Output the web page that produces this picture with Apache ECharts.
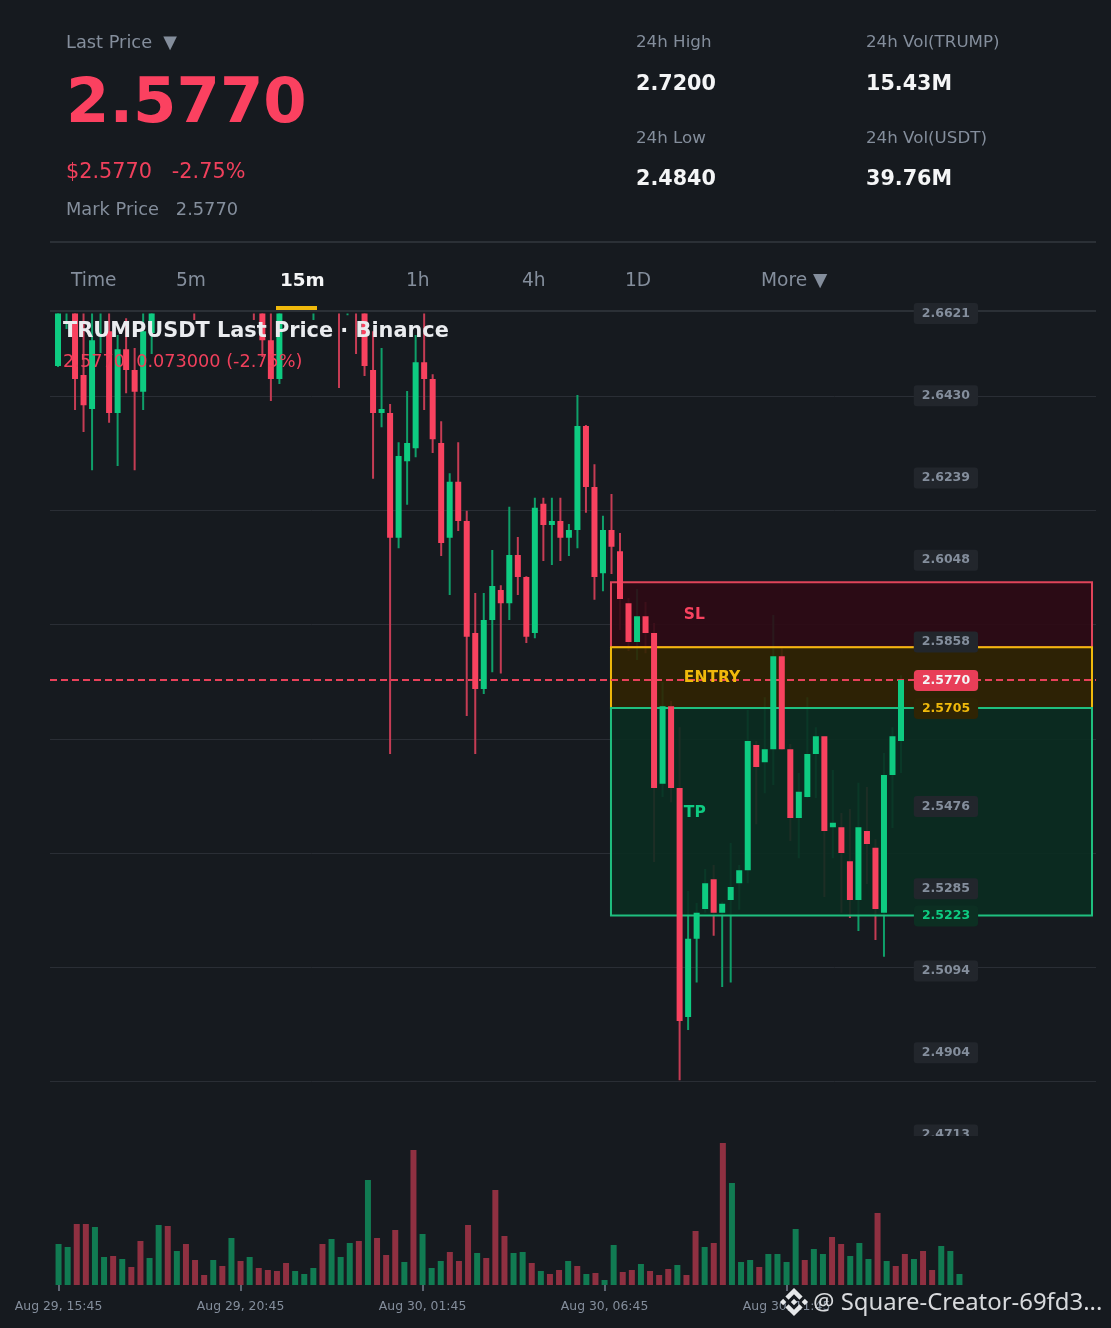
<!DOCTYPE html>
<html><head><meta charset="utf-8">
<style>html,body{margin:0;padding:0;background:#161a1f}#c{width:1111px;height:1328px}</style>
<script src="https://cdn.jsdelivr.net/npm/echarts@6/dist/echarts.min.js"></script>
</head><body><div id="c"></div>
<script>
const opens=[2.6499,2.6650,2.6680,2.6478,2.6399,2.6640,2.6580,2.6390,2.6538,2.6490,2.6439,2.6576,2.6690,2.6670,2.6700,2.6680,2.6665,2.6650,2.6680,2.6660,2.6690,2.6670,2.6705,2.6680,2.6660,2.6559,2.6469,2.6650,2.6670,2.6690,2.6670,2.6690,2.6710,2.6725,2.6690,2.6700,2.6680,2.6490,2.6390,2.6390,2.6100,2.6278,2.6308,2.6508,2.6469,2.6320,2.6100,2.6230,2.6139,2.5879,2.5749,2.5909,2.5979,2.5948,2.6060,2.6009,2.5879,2.6179,2.6130,2.6139,2.6100,2.6118,2.6360,2.6218,2.6018,2.6118,2.6069,2.5948,2.5858,2.5918,2.5879,2.5529,2.5709,2.5519,2.4987,2.5169,2.5238,2.5307,2.5229,2.5259,2.5298,2.5328,2.5619,2.5579,2.5609,2.5825,2.5609,2.5449,2.5498,2.5598,2.5639,2.5428,2.5428,2.5349,2.5259,2.5419,2.5380,2.5229,2.5549,2.5628];
const closes=[2.6700,2.6690,2.6469,2.6408,2.6559,2.6680,2.6390,2.6538,2.6490,2.6439,2.6580,2.6680,2.6670,2.6700,2.6680,2.6665,2.6650,2.6680,2.6660,2.6690,2.6670,2.6705,2.6680,2.6660,2.6559,2.6469,2.6650,2.6670,2.6690,2.6670,2.6690,2.6710,2.6725,2.6690,2.6700,2.6680,2.6499,2.6390,2.6399,2.6100,2.6290,2.6320,2.6508,2.6469,2.6329,2.6088,2.6230,2.6139,2.5870,2.5749,2.5909,2.5988,2.5948,2.6060,2.6009,2.5870,2.6170,2.6130,2.6139,2.6100,2.6118,2.6360,2.6218,2.6009,2.6118,2.6079,2.5958,2.5858,2.5918,2.5879,2.5519,2.5709,2.5519,2.4978,2.5169,2.5229,2.5298,2.5229,2.5250,2.5289,2.5328,2.5628,2.5568,2.5609,2.5825,2.5609,2.5449,2.5510,2.5598,2.5639,2.5419,2.5438,2.5368,2.5259,2.5428,2.5389,2.5238,2.5549,2.5639,2.5770];
const lows=[2.6497,2.6585,2.6397,2.6346,2.6257,2.6529,2.6367,2.6267,2.6436,2.6257,2.6397,2.6527,2.6640,2.6655,2.6660,2.6640,2.6606,2.6635,2.6640,2.6650,2.6655,2.6660,2.6665,2.6606,2.6520,2.6418,2.6457,2.6635,2.6650,2.6650,2.6606,2.6670,2.6690,2.6448,2.6617,2.6527,2.6476,2.6237,2.6357,2.5598,2.6076,2.6177,2.6287,2.6397,2.6297,2.6058,2.5967,2.6116,2.5686,2.5598,2.5737,2.5788,2.5785,2.5909,2.5967,2.5856,2.5867,2.6046,2.6037,2.6046,2.6058,2.6076,2.6158,2.5956,2.5976,2.6016,2.5886,2.5837,2.5816,2.5832,2.5347,2.5498,2.5486,2.4840,2.4957,2.5067,2.5229,2.5176,2.5057,2.5067,2.5236,2.5298,2.5435,2.5507,2.5526,2.5607,2.5396,2.5356,2.5496,2.5496,2.5266,2.5356,2.5229,2.5217,2.5187,2.5296,2.5166,2.5127,2.5426,2.5554];
const highs=[2.6720,2.6700,2.6700,2.6650,2.6640,2.6690,2.6640,2.6571,2.6610,2.6541,2.6640,2.6700,2.6700,2.6720,2.6730,2.6700,2.6680,2.6700,2.6695,2.6710,2.6700,2.6720,2.6715,2.6690,2.6670,2.6640,2.6670,2.6680,2.6700,2.6695,2.6700,2.6720,2.6735,2.6730,2.6710,2.6705,2.6690,2.6580,2.6541,2.6411,2.6322,2.6441,2.6571,2.6640,2.6480,2.6371,2.6250,2.6322,2.6163,2.5972,2.5972,2.6072,2.5990,2.6172,2.6102,2.6011,2.6193,2.6193,2.6193,2.6193,2.6132,2.6432,2.6362,2.6271,2.6151,2.6202,2.6111,2.5960,2.5981,2.5951,2.5902,2.5765,2.5721,2.5660,2.5280,2.5252,2.5331,2.5340,2.5255,2.5391,2.5340,2.5700,2.5628,2.5730,2.5921,2.5849,2.5621,2.5554,2.5730,2.5660,2.5639,2.5561,2.5461,2.5470,2.5531,2.5521,2.5400,2.5600,2.5660,2.5781];
const volumes=[41,38,61,61,58,28,29,26,18,44,27,60,59,34,41,25,10,25,19,47,24,28,17,15,14,22,14,11,17,41,46,28,42,44,105,47,30,55,23,135,51,17,24,33,24,60,32,27,95,49,32,33,22,14,11,15,24,19,11,12,5,40,13,15,21,14,10,16,20,10,54,38,42,142,102,23,25,18,31,31,23,56,25,36,31,48,41,29,42,26,72,24,19,31,26,34,15,39,34,11];
const priceTicks=[2.6621,2.6430,2.6239,2.6048,2.5858,2.5476,2.5285,2.5094,2.4904,2.4713];
const gridValues=[2.6429,2.6165,2.5900,2.5633,2.5368,2.5103,2.4837];
const zoneNames=['SL','ENTRY','TP'];
const zoneTops=[2.5997,2.5846,2.5705];
const zoneBottoms=[2.5846,2.5705,2.5223];
const zoneTextPrices=[2.5920,2.5774,2.5460];
const zoneStart=64.94, zoneEnd=121.43, zoneTextIndex=73.5;
const lastPrice=2.5770;
const markedPrices=[2.5705,2.5223,2.5770];
const startDay=29, startMinutes=15*60+45;

const RED='#f8425f',GREEN='#0ecb81',GRAY='#848e9c',FONT='"DejaVu Sans"';
const zoneStroke=['#e0445a','#f0b90b','#1fbf7f'];
const zoneFill=['rgba(46,10,20,0.9)','rgba(48,36,2,0.9)','rgba(10,44,32,0.9)'];
const zoneTextColor=[RED,'#f0b90b',GREEN];
const markColors=[['#f0b90b','#2f2404'],['#0ecb81','#0c2f22'],['#f4f5f6','#e83e58']];
const LOGO='M38.73 53.2l24.59-24.58 24.6 24.6 14.3-14.31L63.32 0 24.42 38.9zM0 63.31l14.3-14.31 14.31 14.31-14.31 14.3zM38.73 73.41l24.59 24.59 24.6-24.6 14.31 14.29-38.9 38.91-38.91-38.88-.02-.02zM98 63.31l14.3-14.31 14.31 14.3-14.31 14.32zM77.83 63.3L63.32 48.78 52.59 59.51l-1.24 1.23-2.54 2.54 14.51 14.5 14.51-14.47z';

const categories=volumes.map((_,i)=>{
  const t=startMinutes+15*i, d=startDay+Math.floor(t/1440), m=t%1440;
  const h=Math.floor(m/60), mm=m%60;
  return 'Aug '+d+', '+String(h).padStart(2,'0')+':'+String(mm).padStart(2,'0');
});
const candles=opens.map((o,i)=>[i,o,closes[i],lows[i],highs[i]]);
const zones=zoneNames.map((n,i)=>[zoneStart,zoneTops[i],zoneEnd,zoneBottoms[i]]);

const T=(text,x,y,fill,font,extra)=>({type:'text',z:30,style:Object.assign({text,x,y,fill,font,verticalAlign:'middle',textVerticalAlign:'middle'},extra||{})});
const R=(x,y,width,height,fill,z)=>({type:'rect',z:z===undefined?20:z,shape:{x,y,width,height},style:{fill}});

const norm='17.8px '+FONT, side='16.7px '+FONT, tab='18.6px '+FONT, stat='bold 20.7px '+FONT;
const graphics=[
  T('Last Price  ▼',66,43,GRAY,norm),
  T('2.5770',66,105.5,'#fb4160','bold 62.4px '+FONT),
  T('$2.5770   -2.75%',66,172.5,'#f0405c','20.8px '+FONT),
  T('Mark Price   2.5770',66,210.5,GRAY,norm),
  T('24h High',636,43,GRAY,side),
  T('2.7200',636,85,'#f4f5f6',stat),
  T('24h Low',636,139,GRAY,side),
  T('2.4840',636,180,'#f4f5f6',stat),
  T('24h Vol(TRUMP)',866,43,GRAY,side),
  T('15.43M',866,85,'#f4f5f6',stat),
  T('24h Vol(USDT)',866,139,GRAY,side),
  T('39.76M',866,180,'#f4f5f6',stat),
  T('Time',71,281.5,GRAY,tab),
  T('5m',176,281.5,GRAY,tab),
  T('15m',280,281.5,'#f4f5f6','bold 18.4px '+FONT),
  T('1h',406,281.5,GRAY,tab),
  T('4h',522,281.5,GRAY,tab),
  T('1D',625,281.5,GRAY,tab),
  T('More ▼',761,281.5,GRAY,tab),
  R(50,241,1046,2,'#2b3036'),
  R(276,306,41,4,'#f0b90b'),
  R(50,310,1046,2,'#2b3036',0.5),
  T('TRUMPUSDT Last Price · Binance',63,332,'#eaecef','bold 20.85px '+FONT),
  T('2.5770  0.073000 (-2.75%)',63,362.5,'#f0405c','17.7px '+FONT),
  R(0,1136,1111,192,'#161a1f',50),
  T('@ Square-Creator-69fd3...',813,1303,'#d8dadd','23.9px "Noto Sans"',{shadowBlur:2,shadowColor:'#000'})
];
graphics[graphics.length-1].z=80;

const option={
  animation:false,
  backgroundColor:'#161a1f',
  graphic:{elements:graphics},
  grid:[
    {left:50,right:15,top:313.5,height:821.5},
    {left:54,width:910,top:1136,height:149}
  ],
  xAxis:[
    {type:'value',gridIndex:0,min:-0.94,max:121.9,show:false},
    {type:'category',gridIndex:1,data:categories,z:60,
     axisLine:{show:false},
     axisTick:{show:true,alignWithLabel:true,interval:19,length:6,lineStyle:{color:'#5e6673',width:2}},
     axisLabel:{interval:19,color:GRAY,fontSize:12.4,fontFamily:'DejaVu Sans',margin:15.5}}
  ],
  yAxis:[
    {type:'value',gridIndex:0,min:2.4713,max:2.6621,position:'right',offset:-110,z:6,
     splitLine:{show:false},axisLine:{show:false},axisTick:{show:false,customValues:priceTicks},
     axisLabel:{inside:true,margin:8,customValues:priceTicks,formatter:v=>v.toFixed(4),color:GRAY,fontSize:12.5,fontWeight:'bold',fontFamily:'DejaVu Sans',
       backgroundColor:'#22262c',padding:[6,8,2,8],borderRadius:3,showMinLabel:true,showMaxLabel:true}},
    {type:'value',gridIndex:0,min:2.4713,max:2.6621,position:'left',z:0,
     axisLine:{show:false},axisLabel:{show:false},axisTick:{show:false,customValues:gridValues},
     splitLine:{show:true,lineStyle:{color:'#2a2e35',width:1}}},
    {type:'value',gridIndex:1,min:0,max:149,show:false,splitLine:{show:false}}
  ],
  series:[
    {name:'wicks',type:'custom',xAxisIndex:0,yAxisIndex:0,z:1,clip:true,data:candles,encode:{x:0,y:[3,4]},
     renderItem(p,api){
       const x=api.value(0),up=api.value(2)>=api.value(1);
       const a=api.coord([x,api.value(4)]),b=api.coord([x,api.value(3)]);
       return {type:'rect',shape:{x:a[0]-1,y:a[1],width:2,height:b[1]-a[1]},style:{fill:up?'#0f9f69':'#c53c54'}};
     }},
    {name:'zones',type:'custom',xAxisIndex:0,yAxisIndex:0,z:2,clip:false,data:zones,encode:{x:[0,2],y:[1,3]},
     renderItem(p,api){
       const a=api.coord([api.value(0),api.value(1)]),b=api.coord([api.value(2),api.value(3)]);
       return {type:'rect',shape:{x:a[0],y:a[1],width:b[0]-a[0],height:b[1]-a[1]},
         style:{fill:zoneFill[p.dataIndex],stroke:zoneStroke[p.dataIndex],lineWidth:2}};
     }},
    {name:'last',type:'custom',xAxisIndex:0,yAxisIndex:0,z:3,clip:false,data:[[lastPrice]],encode:{y:0},
     renderItem(p,api){
       const y=api.coord([0,api.value(0)])[1],c=p.coordSys;
       return {type:'line',shape:{x1:c.x,y1:y,x2:c.x+c.width,y2:y},style:{stroke:'#e8415a',lineWidth:2,lineDash:[7,4]}};
     }},
    {name:'bodies',type:'custom',xAxisIndex:0,yAxisIndex:0,z:4,clip:true,data:candles,encode:{x:0,y:[1,2]},
     renderItem(p,api){
       const x=api.value(0),o=api.value(1),c=api.value(2);
       const a=api.coord([x,Math.max(o,c)]),b=api.coord([x,Math.min(o,c)]);
       return {type:'rect',shape:{x:a[0]-3,y:a[1],width:6,height:b[1]-a[1]},style:{fill:c>=o?GREEN:RED}};
     }},
    {name:'zoneText',type:'custom',xAxisIndex:0,yAxisIndex:0,z:5,clip:false,data:zoneTextPrices.map(v=>[zoneTextIndex,v]),encode:{x:0,y:1},
     renderItem(p,api){
       const a=api.coord([api.value(0),api.value(1)]);
       return {type:'text',x:a[0],y:a[1],style:{text:zoneNames[p.dataIndex],fill:zoneTextColor[p.dataIndex],font:'bold 15.5px '+FONT,align:'left',verticalAlign:'middle'}};
     }},
    {name:'chips',type:'custom',xAxisIndex:0,yAxisIndex:0,z:7,clip:false,data:markedPrices.map(v=>[v]),encode:{y:0},
     renderItem(p,api){
       const v=api.value(0),y=api.coord([0,v])[1],c=markColors[p.dataIndex];
       return {type:'text',x:946,y:y+0.5,style:{text:v.toFixed(4),fill:c[0],font:'bold 12.5px '+FONT,align:'center',verticalAlign:'middle',
         backgroundColor:c[1],padding:[5,8,3,8],borderRadius:4}};
     }},
    {name:'volume',type:'bar',xAxisIndex:1,yAxisIndex:2,z:60,barWidth:6,data:volumes,
     itemStyle:{color:q=>closes[q.dataIndex]>=opens[q.dataIndex]?'#117b52':'#8f3041'}},
    {name:'logo',type:'custom',coordinateSystem:'none',z:80,silent:true,data:[[0]],
     renderItem(){
       return {type:'path',shape:{pathData:LOGO,x:780,y:1288,width:28,height:28},style:{fill:'#e6e8ea'}};
     }}
  ]
};
echarts.init(document.getElementById('c'),null,{renderer:'canvas'}).setOption(option);
</script></body></html>
